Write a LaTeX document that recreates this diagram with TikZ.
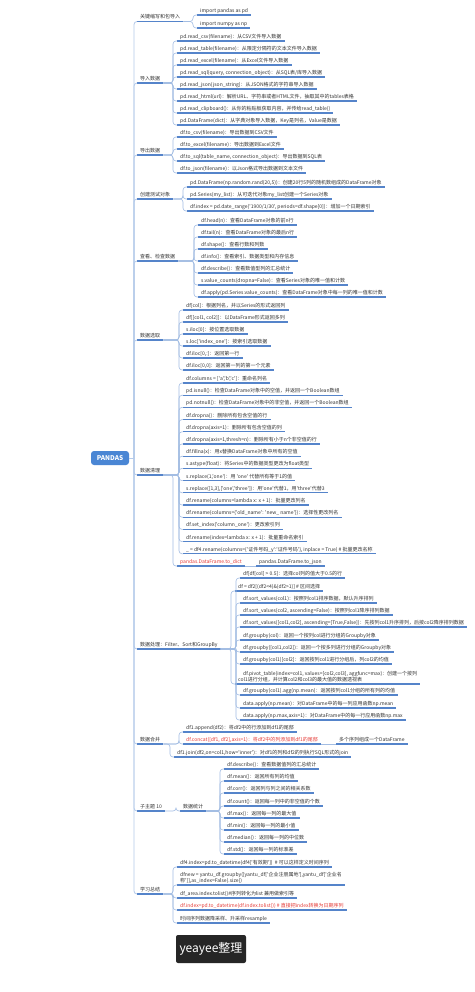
\documentclass[tikz,border=0pt]{standalone}
\usepackage{fontspec}
\newfontfamily\cjkf{Noto Sans CJK SC}
\usetikzlibrary{calc}
\definecolor{ulc}{HTML}{5584CA}
\definecolor{brc}{HTML}{A3BDE3}
\definecolor{trc}{HTML}{B4CAEA}
\definecolor{txc}{HTML}{333333}
\definecolor{redc}{HTML}{E53935}
\definecolor{pandasc}{HTML}{4A86D4}
\begin{document}
\begin{tikzpicture}[x=1pt,y=-1pt,
  uline/.style={draw=ulc, line width=1.1pt},
  leafbase/.style={anchor=south west, inner xsep=3pt, inner ysep=1.3pt,
    font=\cjkf\fontsize{5}{6.4}\selectfont, text=txc,
    append after command={(\tikzlastnode.south west) edge[uline] (\tikzlastnode.south east)}},
  leaf/.style={leafbase, text height=3.9pt, text depth=1.1pt},
  leaftwo/.style={leafbase, align=left},
  redleaf/.style={leaf, text=redc},
  conn/.style={draw=brc, line width=0.6pt, rounded corners=3pt},
  trunk/.style={draw=trc, line width=0.8pt, rounded corners=3pt},
]
\useasboundingbox (0,0) rectangle (474,992);
\fill[white] (0,0) rectangle (474,992);

% root
\node[fill=pandasc, rounded corners=3pt, text=white, font=\cjkf\bfseries\fontsize{6.5}{7}\selectfont,
  minimum width=38pt, minimum height=14pt, inner sep=0pt] (root) at (110,458) {PANDAS};
\coordinate (tj) at (134,458);

% level 1
\node[leaf] (L1) at (137,21.5) {关键缩写和包导入};
\node[leaf] (L2) at (137,83) {导入数据};
\node[leaf] (L3) at (137,155) {导出数据};
\node[leaf] (L4) at (137,199) {创建测试对象};
\node[leaf] (L5) at (137,261) {查看、检查数据};
\node[leaf] (L6) at (137,340) {数据选取};
\node[leaf] (L7) at (137,475) {数据清理};
\node[leaf] (L8) at (137,649) {数据处理：Filter、Sort和GroupBy};
\node[leaf] (L9) at (137,744) {数据合并};
\node[leaf] (L10) at (137,811) {子主题 10};
\node[leaf] (L11) at (137,894) {学习总结};
\node[leaf] (S10) at (180,811) {数据统计};

\draw[trunk] (root.east) -- (tj);
\foreach \n in {L1,L2,L3,L4,L5,L6,L7,L8,L9,L10,L11}
  \draw[trunk] (tj) |- (\n.south west);

% group 1
\node[leaf] (a1) at (197,15) {import pandas as pd};
\node[leaf] (a2) at (197,28) {import numpy as np};
% group 2
\node[leaf] (b1) at (177,41) {pd.read\_csv(filename)：从CSV文件导入数据};
\node[leaf] (b2) at (177,53) {pd.read\_table(filename)：从限定分隔符的文本文件导入数据};
\node[leaf] (b3) at (177,65) {pd.read\_excel(filename)：从Excel文件导入数据};
\node[leaf] (b4) at (177,77) {pd.read\_sql(query, connection\_object)：从SQL表/库导入数据};
\node[leaf] (b5) at (177,89) {pd.read\_json(json\_string)：从JSON格式的字符串导入数据};
\node[leaf] (b6) at (177,101) {pd.read\_html(url)：解析URL、字符串或者HTML文件，抽取其中的tables表格};
\node[leaf] (b7) at (177,113) {pd.read\_clipboard()：从你的粘贴板获取内容，并传给read\_table()};
\node[leaf] (b8) at (177,125) {pd.DataFrame(dict)：从字典对象导入数据，Key是列名，Value是数据};
% group 3
\node[leaf] (c1) at (177,137) {df.to\_csv(filename)：导出数据到CSV文件};
\node[leaf] (c2) at (177,149) {df.to\_excel(filename)：导出数据到Excel文件};
\node[leaf] (c3) at (177,161) {df.to\_sql(table\_name, connection\_object)：导出数据到SQL表};
\node[leaf] (c4) at (177,173) {df.to\_json(filename)：以Json格式导出数据到文本文件};
% group 4
\node[leaf] (d1) at (187,187) {pd.DataFrame(np.random.rand(20,5))：创建20行5列的随机数组成的DataFrame对象};
\node[leaf] (d2) at (187,199) {pd.Series(my\_list)：从可迭代对象my\_list创建一个Series对象};
\node[leaf] (d3) at (187,211) {df.index = pd.date\_range('1900/1/30', periods=df.shape[0])：增加一个日期索引};
% group 5
\node[leaf] (e1) at (198,225) {df.head(n)：查看DataFrame对象的前n行};
\node[leaf] (e2) at (198,237) {df.tail(n)：查看DataFrame对象的最后n行};
\node[leaf] (e3) at (198,249) {df.shape()：查看行数和列数};
\node[leaf] (e4) at (198,261) {df.info()：查看索引、数据类型和内存信息};
\node[leaf] (e5) at (198,273) {df.describe()：查看数值型列的汇总统计};
\node[leaf] (e6) at (198,285) {s.value\_counts(dropna=False)：查看Series对象的唯一值和计数};
\node[leaf] (e7) at (198,297) {df.apply(pd.Series.value\_counts)：查看DataFrame对象中每一列的唯一值和计数};
% group 6
\node[leaf] (f1) at (183,310) {df[col]：根据列名，并以Series的形式返回列};
\node[leaf] (f2) at (183,322) {df[[col1, col2]]：以DataFrame形式返回多列};
\node[leaf] (f3) at (183,334) {s.iloc[0]：按位置选取数据};
\node[leaf] (f4) at (183,346) {s.loc['index\_one']：按索引选取数据};
\node[leaf] (f5) at (183,358) {df.iloc[0,:]：返回第一行};
\node[leaf] (f6) at (183,370) {df.iloc[0,0]：返回第一列的第一个元素};
% group 7
\node[leaf] (g1) at (183,383) {df.columns = ['a','b','c']：重命名列名};
\node[leaf] (g2) at (183,395.2) {pd.isnull()：检查DataFrame对象中的空值，并返回一个Boolean数组};
\node[leaf] (g3) at (183,407.4) {pd.notnull()：检查DataFrame对象中的非空值，并返回一个Boolean数组};
\node[leaf] (g4) at (183,419.6) {df.dropna()：删除所有包含空值的行};
\node[leaf] (g5) at (183,431.8) {df.dropna(axis=1)：删除所有包含空值的列};
\node[leaf] (g6) at (183,444) {df.dropna(axis=1,thresh=n)：删除所有小于n个非空值的行};
\node[leaf] (g7) at (183,456.2) {df.fillna(x)：用x替换DataFrame对象中所有的空值};
\node[leaf] (g8) at (183,468.4) {s.astype(float)：将Series中的数据类型更改为float类型};
\node[leaf] (g9) at (183,480.6) {s.replace(1,'one')：用 'one' 代替所有等于1的值};
\node[leaf] (g10) at (183,492.8) {s.replace([1,3],['one','three'])：用'one'代替1，用'three'代替3};
\node[leaf] (g11) at (183,505) {df.rename(columns=lambda x: x + 1)：批量更改列名};
\node[leaf] (g12) at (183,517.2) {df.rename(columns=\{'old\_name': 'new\_ name'\})：选择性更改列名};
\node[leaf] (g13) at (183,529.4) {df.set\_index('column\_one')：更改索引列};
\node[leaf] (g14) at (183,541.6) {df.rename(index=lambda x: x + 1)：批量重命名索引};
\node[leaf] (g15) at (183,553.8) {\_ = df4.rename(columns=\{'证件号码\_y':'证件号码'\}, inplace = True) \# 批量更改名称};
\node[redleaf] (g16) at (177,566) {pandas.DataFrame.to\_dict};
\node[leaf] (g16b) at (256,566) {pandas.DataFrame.to\_json};
% group 8
\node[leaf] (h1) at (240,578) {df[df[col] > 0.5]：选择col列的值大于0.5的行};
\node[leaf] (h2) at (235,591) {df = df2[(df2<4)\&(df2>1)] \# 区间选择};
\node[leaf] (h3) at (240,603) {df.sort\_values(col1)：按照列col1排序数据，默认升序排列};
\node[leaf] (h4) at (240,615) {df.sort\_values(col2, ascending=False)：按照列col1降序排列数据};
\node[leaf] (h5) at (240,627) {df.sort\_values([col1,col2], ascending=[True,False])：先按列col1升序排列，后按col2降序排列数据};
\node[leaf] (h6) at (240,640) {df.groupby(col)：返回一个按列col进行分组的Groupby对象};
\node[leaf] (h7) at (240,652) {df.groupby([col1,col2])：返回一个按多列进行分组的Groupby对象};
\node[leaf] (h8) at (240,664) {df.groupby(col1)[col2]：返回按列col1进行分组后，列col2的均值};
\node[leaftwo] (h9) at (235,684) {\hspace*{5pt}df.pivot\_table(index=col1, values=[col2,col3], aggfunc=max)：创建一个按列\\col1进行分组，并计算col2和col3的最大值的数据透视表};
\node[leaf] (h10) at (240,695) {df.groupby(col1).agg(np.mean)：返回按列col1分组的所有列的均值};
\node[leaf] (h11) at (240,708) {data.apply(np.mean)：对DataFrame中的每一列应用函数np.mean};
\node[leaf] (h12) at (240,720) {data.apply(np.max,axis=1)：对DataFrame中的每一行应用函数np.max};
% group 9
\node[leaf] (i1) at (183,732) {df1.append(df2)：将df2中的行添加到df1的尾部};
\node[redleaf] (i2) at (183,744) {df.concat([df1, df2],axis=1)：将df2中的列添加到df1的尾部};
\node[leaf] (i2b) at (336,744) {多个序列组成一个DataFrame};
\node[leaf] (i3) at (174,757) {df1.join(df2,on=col1,how='inner')：对df1的列和df2的列执行SQL形式的join};
% group 10
\node[leaf] (j1) at (224,769) {df.describe()：查看数据值列的汇总统计};
\node[leaf] (j2) at (224,781) {df.mean()：返回所有列的均值};
\node[leaf] (j3) at (224,793) {df.corr()：返回列与列之间的相关系数};
\node[leaf] (j4) at (224,806) {df.count()：返回每一列中的非空值的个数};
\node[leaf] (j5) at (224,818) {df.max()：返回每一列的最大值};
\node[leaf] (j6) at (224,830) {df.min()：返回每一列的最小值};
\node[leaf] (j7) at (224,842) {df.median()：返回每一列的中位数};
\node[leaf] (j8) at (224,854) {df.std()：返回每一列的标准差};
% group 11
\node[leaf] (k1) at (177,867) {df4.index=pd.to\_datetime(df4['有效期'])\ \ \# 可以这样定义时间序列};
\node[leaftwo] (k2) at (177,885) {dfnew = yantu\_df.groupby([yantu\_df['企业注册属地'],yantu\_df['企业名\\称']],as\_index=False).size()};
\node[leaf] (k3) at (177,898) {df\_area.index.tolist()\#序列转化为list 兼用做索引等};
\node[redleaf] (k4) at (177,910) {df.index=pd.to\_datetime(df.index.tolist()) \# 直接把index转换为日期序列};
\node[leaf] (k5) at (177,923) {时间序列数据降采样、升采样resample};

% connectors
\foreach \p/\cs in {L1/{a1,a2}, L2/{b1,b2,b3,b4,b5,b6,b7,b8}, L3/{c1,c2,c3,c4}, L4/{d1,d2,d3},
  L5/{e1,e2,e3,e4,e5,e6,e7}, L6/{f1,f2,f3,f4,f5,f6},
  L7/{g1,g2,g3,g4,g5,g6,g7,g8,g9,g10,g11,g12,g13,g14,g15,g16},
  L8/{h1,h2,h3,h4,h5,h6,h7,h8,h9,h10,h11,h12}, L9/{i1,i2,i3}, L10/{S10},
  S10/{j1,j2,j3,j4,j5,j6,j7,j8}, L11/{k1,k2,k3,k4,k5}}{
  \foreach \c in \cs
    \draw[conn] (\p.south east) -| ($(\c.south west)+(-4,0)$) -- (\c.south west);
}
\draw[conn] (g16.south east) -- (g16b.south west);
\draw[conn] (i2.south east) -- (i2b.south west);

% watermark label
\node[fill=black!85, rounded corners=2pt, text=white, font=\cjkf\fontsize{12}{13}\selectfont,
  minimum width=70pt, minimum height=28pt, inner sep=2pt] (logo) at (211,949) {yeayee整理};
\end{tikzpicture}
\end{document}
